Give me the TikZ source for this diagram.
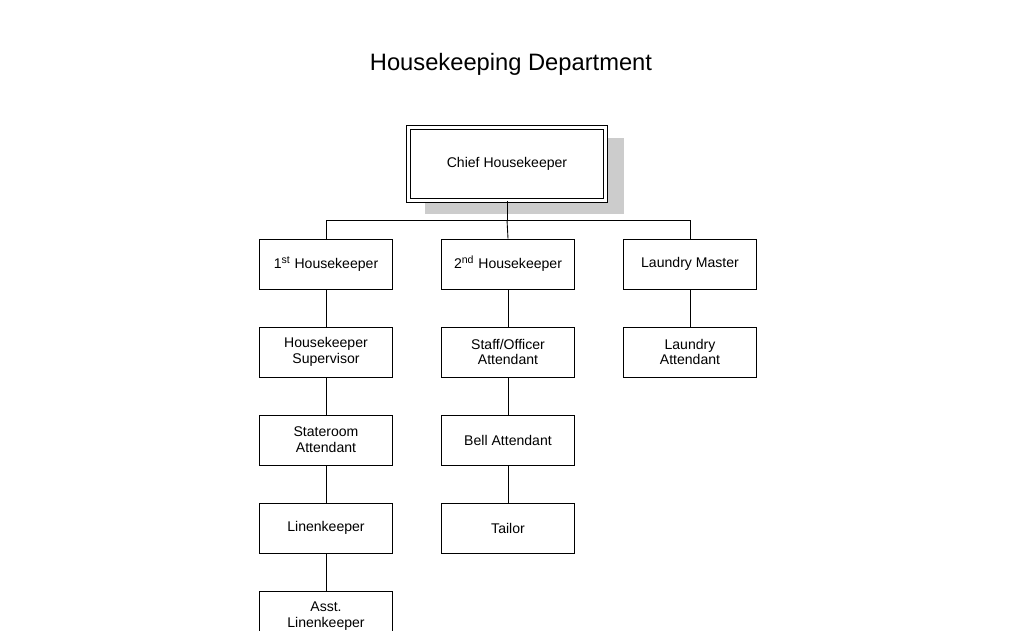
\documentclass[tikz,border=0pt]{standalone}
\usepackage{fontspec}
\setmainfont{Liberation Sans}
\usetikzlibrary{positioning}
\tikzset {
  % plain job box
  job/.style = {draw, minimum width=133*0.02cm, minimum height=50*0.02cm,
    align=center, font=\fontsize{8}{9}\selectfont, inner sep=1pt},
  % head box
  head/.style = {draw, double, double distance=2pt, minimum width=197*0.02cm,
    minimum height=73*0.02cm, font=\fontsize{8}{9}\selectfont},
  link/.style = {line width=0.5pt},
}
\begin{document}
\begin{tikzpicture}[x=0.02cm,y=-0.02cm]
  \useasboundingbox (0,0) rectangle (1024,630);
  \clip (0,0) rectangle (1024,630);

  \node[font=\fontsize{13.5}{15}\selectfont] (title) at (511,64) {Housekeeping Department};

  \fill[gray!40] (425,138) rectangle (624,214);
  \node[head, fill=white] (chief) at (507,164) {Chief Housekeeper};

  \node[job] (h1) at (326,264) {1\textsuperscript{st} Housekeeper};
  \node[job] (h2) at (508,264) {2\textsuperscript{nd} Housekeeper};
  \node[job] (lm) at (690,264) {Laundry Master};

  \node[job] (hs) at (326,352) {Housekeeper\\Supervisor};
  \node[job] (sa) at (326,440) {Stateroom\\Attendant};
  \node[job] (lk) at (326,528) {Linenkeeper};
  \node[job] (al) at (326,616) {Asst.\\Linenkeeper};

  \node[job] (so) at (508,352) {Staff/Officer\\Attendant};
  \node[job] (ba) at (508,440) {Bell Attendant};
  \node[job] (tl) at (508,528) {Tailor};

  \node[job] (la) at (690,352) {Laundry\\Attendant};

  \coordinate (bus) at (507,220);
  \draw[link] (chief.south) -- (bus);
  \draw[link] (h1.north) |- (bus) -| (lm.north);
  \draw[link] (bus) -- (h2.north);

  \draw[link] (h1) -- (hs);
  \draw[link] (hs) -- (sa);
  \draw[link] (sa) -- (lk);
  \draw[link] (lk) -- (al);
  \draw[link] (h2) -- (so);
  \draw[link] (so) -- (ba);
  \draw[link] (ba) -- (tl);
  \draw[link] (lm) -- (la);
\end{tikzpicture}
\end{document}
